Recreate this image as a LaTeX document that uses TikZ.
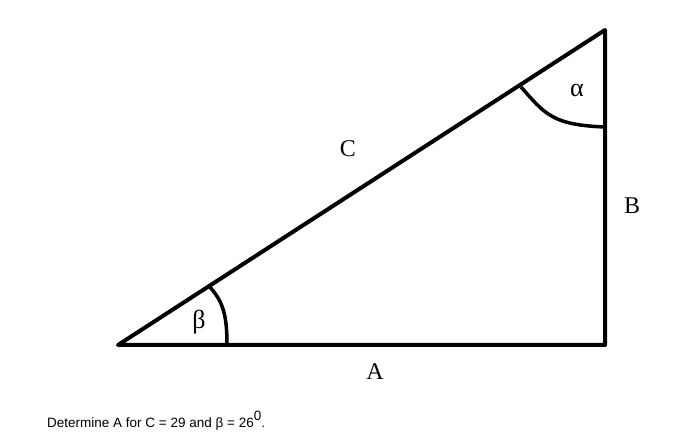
\documentclass[tikz,border=0pt]{standalone}
\usepackage{fontspec}
\setmainfont{Liberation Serif}
\newfontfamily\arialfont{Liberation Sans}
\begin{document}
\begin{tikzpicture}[x=1pt,y=-1pt,
  edge/.style={line width=4pt,line cap=round,line join=round},
  arcline/.style={line width=3.5pt},
  lbl/.style={inner sep=0pt,font=\fontsize{24}{28}\selectfont},
  glbl/.style={inner sep=0pt,font=\fontsize{26}{30}\selectfont}]
\useasboundingbox[fill=white] (0,0) rectangle (689,446);
\coordinate (L) at (118,345);
\coordinate (R) at (605,345);
\coordinate (T) at (605,30);
\draw[edge] (L) -- (R) -- (T) -- cycle;
\coordinate (b1) at (208,285);
\coordinate (b2) at (227,345);
\draw[arcline] (b1) .. controls (222,300) and (227,312) .. (b2);
\coordinate (a1) at (521,87);
\coordinate (a2) at (605,127);
\draw[arcline] (a1) .. controls (545,114) and (552,125) .. (a2);
\node[glbl] (alpha) at (577,90) {α};
\node[glbl] (beta) at (199,322) {β};
\node[lbl] (C) at (348,149) {C};
\node[lbl] (B) at (632,206) {B};
\node[lbl] (A) at (375,372) {A};
\node[anchor=base west,inner sep=0pt,font=\arialfont\fontsize{13.5}{16}\selectfont] (q) at (47,428) {Determine A for C = 29 and β = 26\raisebox{7pt}{0}.};
\end{tikzpicture}
\end{document}
